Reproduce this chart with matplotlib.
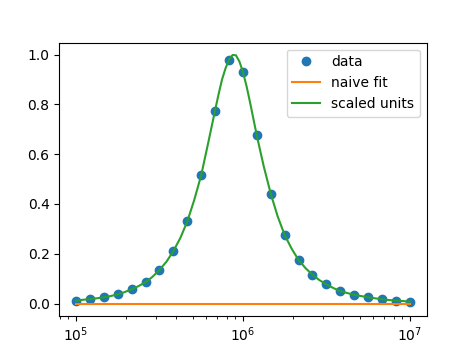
import numpy as np
import matplotlib.pyplot as plt

# measured points (log-spaced frequencies)
freq = np.logspace(5, 7, 25)
data = [0.012, 0.018, 0.025, 0.037, 0.057, 0.086, 0.135, 0.21, 0.33, 0.515,
        0.775, 0.98, 0.93, 0.675, 0.44, 0.275, 0.175, 0.115, 0.077, 0.05,
        0.035, 0.025, 0.017, 0.012, 0.008]

# fitted curves (log10 of frequency)
fit_exp = [5.0, 5.042, 5.083, 5.125, 5.167, 5.208, 5.25, 5.292, 5.333, 5.375,
           5.417, 5.458, 5.5, 5.542, 5.583, 5.625, 5.667, 5.708, 5.75, 5.792,
           5.833, 5.854, 5.875, 5.896, 5.917, 5.938, 5.958, 5.979, 6.0, 6.021,
           6.042, 6.083, 6.125, 6.167, 6.208, 6.25, 6.292, 6.333, 6.375, 6.417,
           6.458, 6.5, 6.542, 6.583, 6.625, 6.667, 6.708, 6.75, 6.792, 6.833,
           6.875, 6.917, 6.958, 7.0]
scaled = [0.012, 0.015, 0.018, 0.021, 0.025, 0.030, 0.037, 0.046, 0.057, 0.070,
          0.086, 0.107, 0.135, 0.168, 0.21, 0.263, 0.33, 0.415, 0.515, 0.645,
          0.775, 0.84, 0.90, 0.945, 0.98, 0.998, 0.997, 0.972, 0.93, 0.875,
          0.81, 0.675, 0.55, 0.44, 0.35, 0.275, 0.22, 0.175, 0.142, 0.115,
          0.094, 0.077, 0.062, 0.05, 0.042, 0.035, 0.030, 0.025, 0.021, 0.017,
          0.014, 0.012, 0.010, 0.008]
fit_freq = [10 ** e for e in fit_exp]
naive = [0.0] * len(fit_exp)

plt.figure(figsize=(4.74, 3.55), dpi=100)
plt.semilogx(freq, data, "o", label="data")
plt.semilogx(fit_freq, naive, label="naive fit")
plt.semilogx(fit_freq, scaled, label="scaled units")
plt.legend()
plt.savefig("out.png")
